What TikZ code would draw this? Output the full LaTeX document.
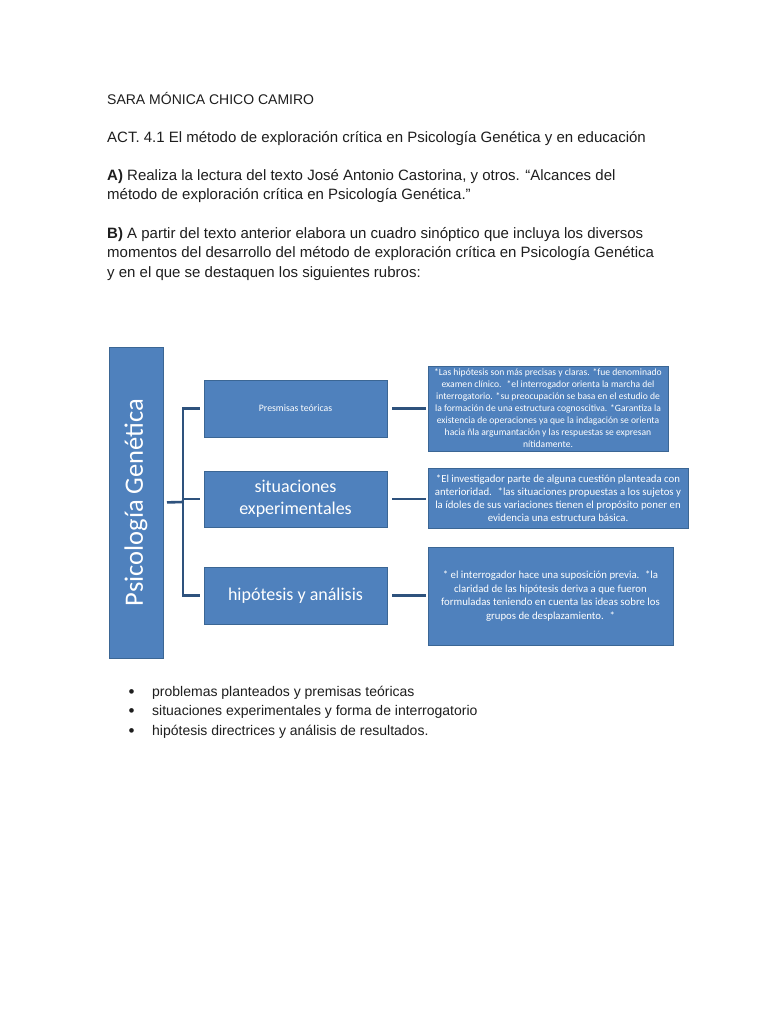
\documentclass[tikz,border=0pt]{standalone}
\usepackage{fontspec}
\setmainfont{Liberation Sans}
\newfontfamily\calibri{Carlito}
\usetikzlibrary{positioning}
\definecolor{boxblue}{HTML}{4F81BD}
\definecolor{boxline}{HTML}{3B6694}
\definecolor{linkblue}{HTML}{2E527D}
\definecolor{txt}{HTML}{1E1E1E}

\begin{document}
\begin{tikzpicture}[x=1pt,y=-1pt,
  caja/.style={draw=boxline,fill=boxblue,text=white,align=center,inner sep=2pt,outer sep=0pt,font=\calibri},
  link/.style={draw=linkblue,line width=2.6pt},
  linea/.style={anchor=base west,inner sep=0pt,text=txt,font=\fontsize{15}{19}\selectfont}]
\useasboundingbox[fill=white] (0,0) rectangle (768,1024);
% encabezado
\node[linea,font=\fontsize{14}{19}\selectfont] (nombre) at (107,105) {SARA MÓNICA CHICO CAMIRO};
\node[linea] (act) at (107,143) {ACT. 4.1 El método de exploración crítica en Psicología Genética y en educación};
\node[linea] (a1) at (107,181) {\textbf{A)} Realiza la lectura del texto José Antonio Castorina, y otros. “Alcances del};
\node[linea] (a2) at (107,200) {método de exploración crítica en Psicología Genética.”};
\node[linea] (b1) at (107,238) {\textbf{B)} A partir del texto anterior elabora un cuadro sinóptico que incluya los diversos};
\node[linea] (b2) at (107,257) {momentos del desarrollo del método de exploración crítica en Psicología Genética};
\node[linea] (b3) at (107,277) {y en el que se destaquen los siguientes rubros:};
% cuadro sinoptico
\node[caja,minimum width=54pt,minimum height=311pt] (psico) at (136,502.5) {};
\node[text=white,font=\calibri\fontsize{26.5}{26}\selectfont,rotate=90] (titulo) at (psico) {Psicología Genética};
\node[caja,minimum width=183pt,minimum height=57pt,font=\calibri\fontsize{9.8}{12}\selectfont] (pre) at (295.5,408.5) {Presmisas teóricas};
\node[caja,minimum width=183pt,minimum height=56pt,font=\calibri\fontsize{18}{22}\selectfont] (sit) at (295.5,499) {situaciones\\experimentales};
\node[caja,minimum width=183pt,minimum height=57pt,font=\calibri\fontsize{18}{22}\selectfont] (hip) at (295.5,595.5) {hipótesis y análisis};
\node[caja,minimum width=240pt,minimum height=85pt,font=\calibri\fontsize{9.6}{12}\selectfont] (nota1) at (548,408.5)
  {*Las hipótesis son más precisas y claras. *fue denominado\\examen clínico. \ *el interrogador orienta la marcha del\\interrogatorio. *su preocupación se basa en el estudio de\\la formación de una estructura cognoscitiva. *Garantiza la\\existencia de operaciones ya que la indagación se orienta\\hacia ñla argumantación y las respuestas se expresan\\nítidamente.};
\node[caja,minimum width=260pt,minimum height=60pt,font=\calibri\fontsize{10.8}{13}\selectfont] (nota2) at (558,498)
  {*El investigador parte de alguna cuestión planteada con\\anterioridad. \ *las situaciones propuestas a los sujetos y\\la ídoles de sus variaciones tienen el propósito poner en\\evidencia una estructura básica.};
\node[caja,minimum width=245pt,minimum height=98pt,font=\calibri\fontsize{10.8}{13.5}\selectfont] (nota3) at (550.5,596)
  {* el interrogador hace una suposición previa. \ *la\\claridad de las hipótesis deriva a que fueron\\formuladas teniendo en cuenta las ideas sobre los\\grupos de desplazamiento. \ *};
% llaves
\coordinate (llave) at (183,502);
\draw[link,shorten <=4pt] (psico.east) -- (llave);
\draw[link,shorten >=4pt] (llave) |- (pre.west);
\draw[link,shorten >=4pt] (llave) |- (sit.west);
\draw[link,shorten >=4pt] (llave) |- (hip.west);
\draw[link,shorten <=5pt,shorten >=2pt] (pre.east) -- (pre.east -| nota1.west);
\draw[link,shorten <=5pt,shorten >=2pt] (sit.east) -- (sit.east -| nota2.west);
\draw[link,shorten <=5pt,shorten >=2pt] (hip.east) -- (hip.east -| nota3.west);
% rubros
\foreach \y/\t [count=\i] in {696/problemas planteados y premisas teóricas,715/situaciones experimentales y forma de interrogatorio,735/hipótesis directrices y análisis de resultados.}{
  \node[linea,font=\fontsize{17}{19}\selectfont] (bala\i) at (128.5,\y+1) {\textbullet};
  \node[linea,font=\fontsize{14}{19}\selectfont] (rubro\i) at (152,\y) {\t};
}
\end{tikzpicture}
\end{document}
